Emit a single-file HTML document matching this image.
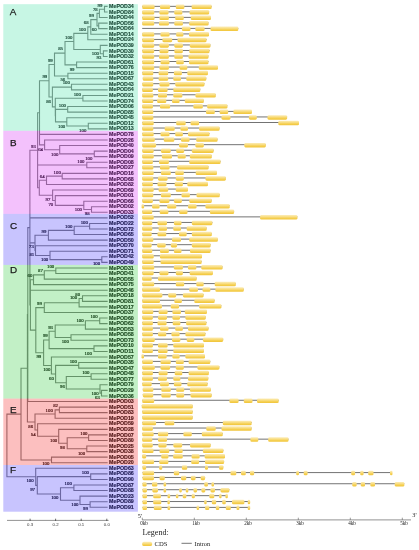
<!DOCTYPE html>
<html><head><meta charset="utf-8"><title>MePOD phylogeny and gene structure</title>
<style>html,body{margin:0;padding:0;background:#fff;}svg{display:block;}.bs{font-family:"Liberation Serif",serif;font-size:4.8px;fill:#000;stroke:#000;stroke-width:0.2px;}.gl{font-family:"Liberation Sans",sans-serif;font-weight:bold;font-size:4.75px;fill:#000;stroke:#000;stroke-width:0.15px;}.grp{font-family:"Liberation Sans",sans-serif;font-size:9.9px;fill:#1a1a1a;stroke:#1a1a1a;stroke-width:0.25px;}.ax{font-family:"Liberation Serif",serif;font-size:5.1px;fill:#222;}.sc{font-family:"Liberation Sans",sans-serif;font-size:4.3px;fill:#333;}</style></head><body>
<svg width="419" height="550" viewBox="0 0 419 550">
<defs><linearGradient id="ex" x1="0" y1="0" x2="0" y2="1"><stop offset="0" stop-color="#fcecb8"/><stop offset="0.35" stop-color="#f9df88"/><stop offset="0.7" stop-color="#f5cf50"/><stop offset="1" stop-color="#f0c43a"/></linearGradient></defs>
<rect x="0" y="0" width="419" height="550" fill="#fff"/>
<path d="M6.90 414.13L6.90 476.82M6.90 414.13L21.00 414.13M21.00 368.31L21.00 459.95M21.00 368.31L27.40 368.31M27.40 314.57L27.40 422.04M27.40 314.57L27.80 314.57M27.80 227.63L27.80 401.51M27.80 227.63L29.90 227.63M29.90 150.29L29.90 304.98M29.90 150.29L37.60 150.29M37.60 112.80L37.60 187.78M37.60 112.80L39.50 112.80M39.50 80.78L39.50 144.83M39.50 80.78L49.00 80.78M49.00 64.55L49.00 97.01M49.00 64.55L54.50 64.55M54.50 53.14L54.50 75.96M54.50 53.14L65.00 53.14M65.00 41.44L65.00 64.83M65.00 41.44L73.80 41.44M73.80 33.36L73.80 49.53M73.80 33.36L87.80 33.36M87.80 26.92L87.80 39.79M87.80 26.92L90.80 26.92M90.80 19.62L90.80 34.23M90.80 19.62L97.00 19.62M97.00 13.36L97.00 25.88M97.00 13.36L99.40 13.36M99.40 9.18L99.40 17.53M99.40 9.18L104.50 9.18M104.50 6.40L104.50 11.96M104.50 6.40L107.10 6.40M104.50 11.96L107.10 11.96M99.40 17.53L107.10 17.53M97.00 25.88L98.70 25.88M98.70 23.09L98.70 28.66M98.70 23.09L107.10 23.09M98.70 28.66L107.10 28.66M90.80 34.23L107.10 34.23M87.80 39.79L107.10 39.79M73.80 49.53L100.30 49.53M100.30 45.36L100.30 53.70M100.30 45.36L107.10 45.36M100.30 53.70L103.40 53.70M103.40 50.92L103.40 56.48M103.40 50.92L107.10 50.92M103.40 56.48L107.10 56.48M65.00 64.83L76.60 64.83M76.60 62.05L76.60 67.62M76.60 62.05L107.10 62.05M76.60 67.62L107.10 67.62M54.50 75.96L67.90 75.96M67.90 73.18L67.90 78.75M67.90 73.18L107.10 73.18M67.90 78.75L107.10 78.75M49.00 97.01L52.40 97.01M52.40 87.09L52.40 106.92M52.40 87.09L71.50 87.09M71.50 84.31L71.50 89.88M71.50 84.31L107.10 84.31M71.50 89.88L107.10 89.88M52.40 106.92L55.30 106.92M55.30 98.22L55.30 115.61M55.30 98.22L82.90 98.22M82.90 95.44L82.90 101.01M82.90 95.44L107.10 95.44M82.90 101.01L107.10 101.01M55.30 115.61L55.50 115.61M55.50 109.35L55.50 121.87M55.50 109.35L67.70 109.35M67.70 106.57L67.70 112.14M67.70 106.57L107.10 106.57M67.70 112.14L107.10 112.14M55.50 121.87L66.80 121.87M66.80 117.70L66.80 126.05M66.80 117.70L107.10 117.70M66.80 126.05L88.30 126.05M88.30 123.27L88.30 128.83M88.30 123.27L107.10 123.27M88.30 128.83L107.10 128.83M39.50 134.40L107.10 134.40M39.50 144.83L44.60 144.83M44.60 139.96L44.60 149.70M44.60 139.96L107.10 139.96M44.60 149.70L59.70 149.70M59.70 145.53L59.70 153.87M59.70 145.53L107.10 145.53M59.70 153.87L94.30 153.87M94.30 151.09L94.30 156.66M94.30 151.09L107.10 151.09M94.30 156.66L107.10 156.66M37.60 165.00L86.80 165.00M86.80 162.22L86.80 167.79M86.80 162.22L107.10 162.22M86.80 167.79L107.10 167.79M37.60 187.78L39.30 187.78M39.30 180.31L39.30 195.26M39.30 180.31L46.50 180.31M46.50 176.13L46.50 184.48M46.50 176.13L62.20 176.13M62.20 173.35L62.20 178.92M62.20 173.35L107.10 173.35M62.20 178.92L107.10 178.92M46.50 184.48L107.10 184.48M39.30 195.26L52.60 195.26M52.60 190.05L52.60 200.48M52.60 190.05L107.10 190.05M52.60 200.48L55.30 200.48M55.30 195.61L55.30 205.35M55.30 195.61L107.10 195.61M55.30 205.35L83.80 205.35M83.80 201.18L83.80 209.52M83.80 201.18L107.10 201.18M83.80 209.52L91.50 209.52M91.50 206.74L91.50 212.31M91.50 206.74L107.10 206.74M91.50 212.31L107.10 212.31M29.90 217.87L107.10 217.87M29.90 242.91L35.00 242.91M35.00 235.26L35.00 250.56M35.00 235.26L48.40 235.26M48.40 230.39L48.40 240.13M48.40 230.39L74.20 230.39M74.20 226.22L74.20 234.57M74.20 226.22L89.60 226.22M89.60 223.44L89.60 229.00M89.60 223.44L107.10 223.44M89.60 229.00L107.10 229.00M74.20 234.57L107.10 234.57M48.40 240.13L107.10 240.13M35.00 250.56L35.50 250.56M35.50 245.70L35.50 255.43M35.50 245.70L107.10 245.70M35.50 255.43L50.00 255.43M50.00 251.26L50.00 259.61M50.00 251.26L107.10 251.26M50.00 259.61L101.80 259.61M101.80 256.82L101.80 262.39M101.80 256.82L107.10 256.82M101.80 262.39L107.10 262.39M29.90 304.98L30.40 304.98M30.40 279.78L30.40 330.17M30.40 279.78L33.50 279.78M33.50 274.91L33.50 284.65M33.50 274.91L44.30 274.91M44.30 270.74L44.30 279.08M44.30 270.74L55.80 270.74M55.80 267.95L55.80 273.52M55.80 267.95L107.10 267.95M55.80 273.52L107.10 273.52M44.30 279.08L107.10 279.08M33.50 284.65L107.10 284.65M30.40 290.21L107.10 290.21M30.40 330.17L35.80 330.17M35.80 307.61L35.80 352.73M35.80 307.61L44.30 307.61M44.30 302.74L44.30 312.48M44.30 302.74L79.10 302.74M79.10 298.56L79.10 306.91M79.10 298.56L82.50 298.56M82.50 295.78L82.50 301.34M82.50 295.78L107.10 295.78M82.50 301.34L107.10 301.34M79.10 306.91L107.10 306.91M44.30 312.48L107.10 312.48M35.80 352.73L43.60 352.73M43.60 339.95L43.60 365.52M43.60 339.95L49.10 339.95M49.10 331.26L49.10 348.65M49.10 331.26L55.20 331.26M55.20 325.00L55.20 337.52M55.20 325.00L85.40 325.00M85.40 320.82L85.40 329.17M85.40 320.82L99.70 320.82M99.70 318.04L99.70 323.61M99.70 318.04L107.10 318.04M99.70 323.61L107.10 323.61M85.40 329.17L107.10 329.17M55.20 337.52L71.00 337.52M71.00 334.74L71.00 340.30M71.00 334.74L107.10 334.74M71.00 340.30L107.10 340.30M49.10 348.65L94.00 348.65M94.00 345.87L94.00 351.43M94.00 345.87L107.10 345.87M94.00 351.43L107.10 351.43M43.60 365.52L51.40 365.52M51.40 357.00L51.40 374.04M51.40 357.00L107.10 357.00M51.40 374.04L55.60 374.04M55.60 365.34L55.60 382.73M55.60 365.34L78.70 365.34M78.70 362.56L78.70 368.12M78.70 362.56L107.10 362.56M78.70 368.12L107.10 368.12M55.60 382.73L66.30 382.73M66.30 376.47L66.30 388.99M66.30 376.47L91.10 376.47M91.10 373.69L91.10 379.25M91.10 373.69L107.10 373.69M91.10 379.25L107.10 379.25M66.30 388.99L100.00 388.99M100.00 384.82L100.00 393.17M100.00 384.82L107.10 384.82M100.00 393.17L101.50 393.17M101.50 390.38L101.50 395.95M101.50 390.38L107.10 390.38M101.50 395.95L107.10 395.95M27.80 401.51L107.10 401.51M27.40 422.04L35.00 422.04M35.00 414.04L35.00 430.04M35.00 414.04L55.10 414.04M55.10 409.86L55.10 418.21M55.10 409.86L59.40 409.86M59.40 407.08L59.40 412.64M59.40 407.08L107.10 407.08M59.40 412.64L107.10 412.64M55.10 418.21L107.10 418.21M35.00 430.04L37.60 430.04M37.60 423.78L37.60 436.30M37.60 423.78L107.10 423.78M37.60 436.30L58.70 436.30M58.70 429.34L58.70 443.25M58.70 429.34L107.10 429.34M58.70 443.25L67.20 443.25M67.20 437.69L67.20 448.82M67.20 437.69L88.60 437.69M88.60 434.91L88.60 440.47M88.60 434.91L107.10 434.91M88.60 440.47L107.10 440.47M67.20 448.82L86.80 448.82M86.80 446.04L86.80 451.60M86.80 446.04L107.10 446.04M86.80 451.60L107.10 451.60M21.00 459.95L51.50 459.95M51.50 457.17L51.50 462.73M51.50 457.17L107.10 457.17M51.50 462.73L107.10 462.73M6.90 476.82L35.70 476.82M35.70 468.30L35.70 485.34M35.70 468.30L107.10 468.30M35.70 485.34L37.30 485.34M37.30 476.64L37.30 494.03M37.30 476.64L90.70 476.64M90.70 473.86L90.70 479.43M90.70 473.86L107.10 473.86M90.70 479.43L107.10 479.43M37.30 494.03L60.50 494.03M60.50 487.77L60.50 500.29M60.50 487.77L73.90 487.77M73.90 484.99L73.90 490.56M73.90 484.99L107.10 484.99M73.90 490.56L107.10 490.56M60.50 500.29L80.00 500.29M80.00 496.12L80.00 504.47M80.00 496.12L107.10 496.12M80.00 504.47L90.10 504.47M90.10 501.69L90.10 507.25M90.10 501.69L107.10 501.69M90.10 507.25L107.10 507.25" stroke="#000" stroke-width="1.1" fill="none" stroke-linecap="square" stroke-opacity="0.55"/>
<text class="bs" x="100.0" y="6.5" text-anchor="middle">99</text>
<text class="bs" x="95.3" y="10.9" text-anchor="middle">78</text>
<text class="bs" x="94.2" y="31.3" text-anchor="middle">60</text>
<text class="bs" x="91.5" y="17.1" text-anchor="middle">99</text>
<text class="bs" x="86.2" y="24.4" text-anchor="middle">68</text>
<text class="bs" x="82.3" y="30.7" text-anchor="middle">100</text>
<text class="bs" x="99.0" y="59.0" text-anchor="middle">93</text>
<text class="bs" x="95.4" y="54.6" text-anchor="middle">100</text>
<text class="bs" x="68.7" y="39.1" text-anchor="middle">100</text>
<text class="bs" x="60.6" y="50.3" text-anchor="middle">85</text>
<text class="bs" x="72.1" y="70.7" text-anchor="middle">99</text>
<text class="bs" x="50.3" y="62.0" text-anchor="middle">99</text>
<text class="bs" x="66.3" y="84.1" text-anchor="middle">100</text>
<text class="bs" x="77.3" y="95.6" text-anchor="middle">100</text>
<text class="bs" x="62.4" y="106.7" text-anchor="middle">100</text>
<text class="bs" x="82.7" y="132.3" text-anchor="middle">100</text>
<text class="bs" x="61.6" y="128.0" text-anchor="middle">100</text>
<text class="bs" x="48.6" y="102.5" text-anchor="middle">86</text>
<text class="bs" x="44.8" y="78.0" text-anchor="middle">99</text>
<text class="bs" x="88.8" y="159.7" text-anchor="middle">100</text>
<text class="bs" x="54.7" y="155.5" text-anchor="middle">100</text>
<text class="bs" x="40.6" y="150.9" text-anchor="middle">64</text>
<text class="bs" x="80.9" y="162.5" text-anchor="middle">100</text>
<text class="bs" x="57.2" y="173.7" text-anchor="middle">100</text>
<text class="bs" x="42.2" y="178.0" text-anchor="middle">64</text>
<text class="bs" x="87.2" y="214.9" text-anchor="middle">98</text>
<text class="bs" x="78.4" y="210.6" text-anchor="middle">100</text>
<text class="bs" x="50.8" y="206.2" text-anchor="middle">70</text>
<text class="bs" x="47.9" y="200.5" text-anchor="middle">97</text>
<text class="bs" x="33.5" y="147.5" text-anchor="middle">93</text>
<text class="bs" x="84.3" y="223.6" text-anchor="middle">100</text>
<text class="bs" x="68.7" y="227.8" text-anchor="middle">100</text>
<text class="bs" x="44.0" y="232.7" text-anchor="middle">99</text>
<text class="bs" x="96.5" y="264.9" text-anchor="middle">100</text>
<text class="bs" x="44.6" y="261.1" text-anchor="middle">100</text>
<text class="bs" x="31.8" y="255.8" text-anchor="middle">81</text>
<text class="bs" x="31.4" y="247.7" text-anchor="middle">73</text>
<text class="bs" x="50.6" y="267.9" text-anchor="middle">100</text>
<text class="bs" x="40.5" y="271.7" text-anchor="middle">87</text>
<text class="bs" x="29.9" y="276.7" text-anchor="middle">60</text>
<text class="bs" x="77.7" y="295.9" text-anchor="middle">80</text>
<text class="bs" x="73.5" y="299.4" text-anchor="middle">100</text>
<text class="bs" x="39.5" y="304.7" text-anchor="middle">99</text>
<text class="bs" x="94.0" y="318.3" text-anchor="middle">100</text>
<text class="bs" x="80.0" y="322.3" text-anchor="middle">100</text>
<text class="bs" x="65.3" y="343.2" text-anchor="middle">100</text>
<text class="bs" x="50.6" y="328.7" text-anchor="middle">93</text>
<text class="bs" x="88.2" y="354.6" text-anchor="middle">100</text>
<text class="bs" x="45.3" y="336.9" text-anchor="middle">99</text>
<text class="bs" x="73.3" y="362.6" text-anchor="middle">100</text>
<text class="bs" x="85.8" y="373.7" text-anchor="middle">100</text>
<text class="bs" x="97.4" y="399.0" text-anchor="middle">63</text>
<text class="bs" x="95.0" y="394.8" text-anchor="middle">100</text>
<text class="bs" x="62.4" y="388.3" text-anchor="middle">96</text>
<text class="bs" x="51.4" y="379.6" text-anchor="middle">60</text>
<text class="bs" x="46.8" y="371.3" text-anchor="middle">100</text>
<text class="bs" x="38.8" y="358.2" text-anchor="middle">99</text>
<text class="bs" x="55.6" y="406.8" text-anchor="middle">82</text>
<text class="bs" x="49.2" y="411.6" text-anchor="middle">100</text>
<text class="bs" x="83.9" y="434.7" text-anchor="middle">100</text>
<text class="bs" x="81.5" y="454.5" text-anchor="middle">100</text>
<text class="bs" x="62.4" y="448.6" text-anchor="middle">98</text>
<text class="bs" x="53.6" y="442.2" text-anchor="middle">100</text>
<text class="bs" x="33.2" y="436.1" text-anchor="middle">54</text>
<text class="bs" x="30.7" y="427.7" text-anchor="middle">86</text>
<text class="bs" x="45.8" y="465.1" text-anchor="middle">100</text>
<text class="bs" x="85.4" y="474.2" text-anchor="middle">100</text>
<text class="bs" x="68.2" y="485.1" text-anchor="middle">100</text>
<text class="bs" x="85.4" y="509.5" text-anchor="middle">99</text>
<text class="bs" x="74.9" y="506.1" text-anchor="middle">100</text>
<text class="bs" x="54.8" y="499.4" text-anchor="middle">100</text>
<text class="bs" x="32.6" y="490.9" text-anchor="middle">97</text>
<text class="bs" x="30.0" y="482.3" text-anchor="middle">100</text>
<text class="bs" x="62.8" y="81.1" text-anchor="middle">56</text>
<text class="gl" x="109.1" y="8.00" textLength="24.7" lengthAdjust="spacingAndGlyphs">MePOD34</text>
<text class="gl" x="109.1" y="13.56" textLength="24.7" lengthAdjust="spacingAndGlyphs">MePOD84</text>
<text class="gl" x="109.1" y="19.13" textLength="24.7" lengthAdjust="spacingAndGlyphs">MePOD44</text>
<text class="gl" x="109.1" y="24.70" textLength="24.7" lengthAdjust="spacingAndGlyphs">MePOD56</text>
<text class="gl" x="109.1" y="30.26" textLength="24.7" lengthAdjust="spacingAndGlyphs">MePOD64</text>
<text class="gl" x="109.1" y="35.83" textLength="24.7" lengthAdjust="spacingAndGlyphs">MePOD14</text>
<text class="gl" x="109.1" y="41.39" textLength="24.7" lengthAdjust="spacingAndGlyphs">MePOD24</text>
<text class="gl" x="109.1" y="46.96" textLength="24.7" lengthAdjust="spacingAndGlyphs">MePOD39</text>
<text class="gl" x="109.1" y="52.52" textLength="24.7" lengthAdjust="spacingAndGlyphs">MePOD30</text>
<text class="gl" x="109.1" y="58.09" textLength="24.7" lengthAdjust="spacingAndGlyphs">MePOD32</text>
<text class="gl" x="109.1" y="63.65" textLength="24.7" lengthAdjust="spacingAndGlyphs">MePOD61</text>
<text class="gl" x="109.1" y="69.22" textLength="24.7" lengthAdjust="spacingAndGlyphs">MePOD76</text>
<text class="gl" x="109.1" y="74.78" textLength="24.7" lengthAdjust="spacingAndGlyphs">MePOD15</text>
<text class="gl" x="109.1" y="80.34" textLength="24.7" lengthAdjust="spacingAndGlyphs">MePOD67</text>
<text class="gl" x="109.1" y="85.91" textLength="24.7" lengthAdjust="spacingAndGlyphs">MePOD43</text>
<text class="gl" x="109.1" y="91.48" textLength="24.7" lengthAdjust="spacingAndGlyphs">MePOD54</text>
<text class="gl" x="109.1" y="97.04" textLength="24.7" lengthAdjust="spacingAndGlyphs">MePOD21</text>
<text class="gl" x="109.1" y="102.61" textLength="24.7" lengthAdjust="spacingAndGlyphs">MePOD74</text>
<text class="gl" x="109.1" y="108.17" textLength="24.7" lengthAdjust="spacingAndGlyphs">MePOD06</text>
<text class="gl" x="109.1" y="113.74" textLength="24.7" lengthAdjust="spacingAndGlyphs">MePOD85</text>
<text class="gl" x="109.1" y="119.30" textLength="24.7" lengthAdjust="spacingAndGlyphs">MePOD45</text>
<text class="gl" x="109.1" y="124.87" textLength="24.7" lengthAdjust="spacingAndGlyphs">MePOD12</text>
<text class="gl" x="109.1" y="130.43" textLength="24.7" lengthAdjust="spacingAndGlyphs">MePOD13</text>
<text class="gl" x="109.1" y="136.00" textLength="24.7" lengthAdjust="spacingAndGlyphs">MePOD78</text>
<text class="gl" x="109.1" y="141.56" textLength="24.7" lengthAdjust="spacingAndGlyphs">MePOD26</text>
<text class="gl" x="109.1" y="147.12" textLength="24.7" lengthAdjust="spacingAndGlyphs">MePOD40</text>
<text class="gl" x="109.1" y="152.69" textLength="24.7" lengthAdjust="spacingAndGlyphs">MePOD04</text>
<text class="gl" x="109.1" y="158.26" textLength="24.7" lengthAdjust="spacingAndGlyphs">MePOD09</text>
<text class="gl" x="109.1" y="163.82" textLength="24.7" lengthAdjust="spacingAndGlyphs">MePOD08</text>
<text class="gl" x="109.1" y="169.39" textLength="24.7" lengthAdjust="spacingAndGlyphs">MePOD27</text>
<text class="gl" x="109.1" y="174.95" textLength="24.7" lengthAdjust="spacingAndGlyphs">MePOD16</text>
<text class="gl" x="109.1" y="180.52" textLength="24.7" lengthAdjust="spacingAndGlyphs">MePOD68</text>
<text class="gl" x="109.1" y="186.08" textLength="24.7" lengthAdjust="spacingAndGlyphs">MePOD82</text>
<text class="gl" x="109.1" y="191.65" textLength="24.7" lengthAdjust="spacingAndGlyphs">MePOD69</text>
<text class="gl" x="109.1" y="197.21" textLength="24.7" lengthAdjust="spacingAndGlyphs">MePOD01</text>
<text class="gl" x="109.1" y="202.78" textLength="24.7" lengthAdjust="spacingAndGlyphs">MePOD66</text>
<text class="gl" x="109.1" y="208.34" textLength="24.7" lengthAdjust="spacingAndGlyphs">MePOD02</text>
<text class="gl" x="109.1" y="213.91" textLength="24.7" lengthAdjust="spacingAndGlyphs">MePOD33</text>
<text class="gl" x="109.1" y="219.47" textLength="24.7" lengthAdjust="spacingAndGlyphs">MePOD52</text>
<text class="gl" x="109.1" y="225.04" textLength="24.7" lengthAdjust="spacingAndGlyphs">MePOD22</text>
<text class="gl" x="109.1" y="230.60" textLength="24.7" lengthAdjust="spacingAndGlyphs">MePOD72</text>
<text class="gl" x="109.1" y="236.17" textLength="24.7" lengthAdjust="spacingAndGlyphs">MePOD65</text>
<text class="gl" x="109.1" y="241.73" textLength="24.7" lengthAdjust="spacingAndGlyphs">MePOD50</text>
<text class="gl" x="109.1" y="247.30" textLength="24.7" lengthAdjust="spacingAndGlyphs">MePOD70</text>
<text class="gl" x="109.1" y="252.86" textLength="24.7" lengthAdjust="spacingAndGlyphs">MePOD71</text>
<text class="gl" x="109.1" y="258.43" textLength="24.7" lengthAdjust="spacingAndGlyphs">MePOD42</text>
<text class="gl" x="109.1" y="263.99" textLength="24.7" lengthAdjust="spacingAndGlyphs">MePOD49</text>
<text class="gl" x="109.1" y="269.56" textLength="24.7" lengthAdjust="spacingAndGlyphs">MePOD31</text>
<text class="gl" x="109.1" y="275.12" textLength="24.7" lengthAdjust="spacingAndGlyphs">MePOD41</text>
<text class="gl" x="109.1" y="280.69" textLength="24.7" lengthAdjust="spacingAndGlyphs">MePOD55</text>
<text class="gl" x="109.1" y="286.25" textLength="24.7" lengthAdjust="spacingAndGlyphs">MePOD75</text>
<text class="gl" x="109.1" y="291.81" textLength="24.7" lengthAdjust="spacingAndGlyphs">MePOD46</text>
<text class="gl" x="109.1" y="297.38" textLength="24.7" lengthAdjust="spacingAndGlyphs">MePOD18</text>
<text class="gl" x="109.1" y="302.94" textLength="24.7" lengthAdjust="spacingAndGlyphs">MePOD81</text>
<text class="gl" x="109.1" y="308.51" textLength="24.7" lengthAdjust="spacingAndGlyphs">MePOD17</text>
<text class="gl" x="109.1" y="314.08" textLength="24.7" lengthAdjust="spacingAndGlyphs">MePOD37</text>
<text class="gl" x="109.1" y="319.64" textLength="24.7" lengthAdjust="spacingAndGlyphs">MePOD60</text>
<text class="gl" x="109.1" y="325.21" textLength="24.7" lengthAdjust="spacingAndGlyphs">MePOD62</text>
<text class="gl" x="109.1" y="330.77" textLength="24.7" lengthAdjust="spacingAndGlyphs">MePOD53</text>
<text class="gl" x="109.1" y="336.34" textLength="24.7" lengthAdjust="spacingAndGlyphs">MePOD58</text>
<text class="gl" x="109.1" y="341.90" textLength="24.7" lengthAdjust="spacingAndGlyphs">MePOD73</text>
<text class="gl" x="109.1" y="347.47" textLength="24.7" lengthAdjust="spacingAndGlyphs">MePOD10</text>
<text class="gl" x="109.1" y="353.03" textLength="24.7" lengthAdjust="spacingAndGlyphs">MePOD11</text>
<text class="gl" x="109.1" y="358.60" textLength="24.7" lengthAdjust="spacingAndGlyphs">MePOD57</text>
<text class="gl" x="109.1" y="364.16" textLength="24.7" lengthAdjust="spacingAndGlyphs">MePOD35</text>
<text class="gl" x="109.1" y="369.73" textLength="24.7" lengthAdjust="spacingAndGlyphs">MePOD47</text>
<text class="gl" x="109.1" y="375.29" textLength="24.7" lengthAdjust="spacingAndGlyphs">MePOD48</text>
<text class="gl" x="109.1" y="380.86" textLength="24.7" lengthAdjust="spacingAndGlyphs">MePOD77</text>
<text class="gl" x="109.1" y="386.42" textLength="24.7" lengthAdjust="spacingAndGlyphs">MePOD79</text>
<text class="gl" x="109.1" y="391.99" textLength="24.7" lengthAdjust="spacingAndGlyphs">MePOD29</text>
<text class="gl" x="109.1" y="397.55" textLength="24.7" lengthAdjust="spacingAndGlyphs">MePOD36</text>
<text class="gl" x="109.1" y="403.12" textLength="24.7" lengthAdjust="spacingAndGlyphs">MePOD03</text>
<text class="gl" x="109.1" y="408.68" textLength="24.7" lengthAdjust="spacingAndGlyphs">MePOD51</text>
<text class="gl" x="109.1" y="414.25" textLength="24.7" lengthAdjust="spacingAndGlyphs">MePOD83</text>
<text class="gl" x="109.1" y="419.81" textLength="24.7" lengthAdjust="spacingAndGlyphs">MePOD19</text>
<text class="gl" x="109.1" y="425.38" textLength="24.7" lengthAdjust="spacingAndGlyphs">MePOD59</text>
<text class="gl" x="109.1" y="430.94" textLength="24.7" lengthAdjust="spacingAndGlyphs">MePOD28</text>
<text class="gl" x="109.1" y="436.51" textLength="24.7" lengthAdjust="spacingAndGlyphs">MePOD07</text>
<text class="gl" x="109.1" y="442.07" textLength="24.7" lengthAdjust="spacingAndGlyphs">MePOD80</text>
<text class="gl" x="109.1" y="447.64" textLength="24.7" lengthAdjust="spacingAndGlyphs">MePOD25</text>
<text class="gl" x="109.1" y="453.20" textLength="24.7" lengthAdjust="spacingAndGlyphs">MePOD38</text>
<text class="gl" x="109.1" y="458.77" textLength="24.7" lengthAdjust="spacingAndGlyphs">MePOD05</text>
<text class="gl" x="109.1" y="464.33" textLength="24.7" lengthAdjust="spacingAndGlyphs">MePOD20</text>
<text class="gl" x="109.1" y="469.90" textLength="24.7" lengthAdjust="spacingAndGlyphs">MePOD63</text>
<text class="gl" x="109.1" y="475.46" textLength="24.7" lengthAdjust="spacingAndGlyphs">MePOD86</text>
<text class="gl" x="109.1" y="481.03" textLength="24.7" lengthAdjust="spacingAndGlyphs">MePOD90</text>
<text class="gl" x="109.1" y="486.59" textLength="24.7" lengthAdjust="spacingAndGlyphs">MePOD87</text>
<text class="gl" x="109.1" y="492.16" textLength="24.7" lengthAdjust="spacingAndGlyphs">MePOD88</text>
<text class="gl" x="109.1" y="497.72" textLength="24.7" lengthAdjust="spacingAndGlyphs">MePOD23</text>
<text class="gl" x="109.1" y="503.29" textLength="24.7" lengthAdjust="spacingAndGlyphs">MePOD89</text>
<text class="gl" x="109.1" y="508.85" textLength="24.7" lengthAdjust="spacingAndGlyphs">MePOD91</text>
<rect x="3.3" y="4.2" width="134.6" height="126.6" fill="#5ae5b0" fill-opacity="0.34"/>
<rect x="3.3" y="130.8" width="134.6" height="83.1" fill="#dc49f6" fill-opacity="0.34"/>
<rect x="3.3" y="213.9" width="134.6" height="51.0" fill="#5d51fc" fill-opacity="0.34"/>
<rect x="3.3" y="264.9" width="134.6" height="133.7" fill="#4cd357" fill-opacity="0.34"/>
<rect x="3.3" y="398.6" width="134.6" height="66.4" fill="#f64343" fill-opacity="0.34"/>
<rect x="3.3" y="465.0" width="134.6" height="46.7" fill="#5d51fc" fill-opacity="0.34"/>
<text class="grp" x="9.8" y="15.4">A</text>
<text class="grp" x="10.0" y="145.6">B</text>
<text class="grp" x="9.9" y="229.1">C</text>
<text class="grp" x="10.0" y="273.4">D</text>
<text class="grp" x="9.9" y="412.9">E</text>
<text class="grp" x="10.0" y="472.7">F</text>
<line x1="142.2" y1="6.35" x2="211.7" y2="6.35" stroke="#5a5a5a" stroke-width="0.85"/>
<rect x="142.2" y="4.55" width="12.4" height="4.5" rx="1.30" fill="url(#ex)"/>
<rect x="160.0" y="4.55" width="10.1" height="4.5" rx="1.30" fill="url(#ex)"/>
<rect x="175.8" y="4.55" width="8.6" height="4.5" rx="1.30" fill="url(#ex)"/>
<rect x="191.6" y="4.55" width="20.1" height="4.5" rx="1.30" fill="url(#ex)"/>
<line x1="142.2" y1="11.87" x2="209.1" y2="11.87" stroke="#5a5a5a" stroke-width="0.85"/>
<rect x="142.2" y="10.06" width="12.0" height="4.5" rx="1.30" fill="url(#ex)"/>
<rect x="159.4" y="10.06" width="9.1" height="4.5" rx="1.30" fill="url(#ex)"/>
<rect x="174.3" y="10.06" width="8.0" height="4.5" rx="1.30" fill="url(#ex)"/>
<rect x="189.6" y="10.06" width="19.5" height="4.5" rx="1.30" fill="url(#ex)"/>
<line x1="142.2" y1="17.38" x2="211.0" y2="17.38" stroke="#5a5a5a" stroke-width="0.85"/>
<rect x="142.2" y="15.58" width="12.4" height="4.5" rx="1.30" fill="url(#ex)"/>
<rect x="159.4" y="15.58" width="9.5" height="4.5" rx="1.30" fill="url(#ex)"/>
<rect x="175.2" y="15.58" width="8.6" height="4.5" rx="1.30" fill="url(#ex)"/>
<rect x="190.8" y="15.58" width="20.2" height="4.5" rx="1.30" fill="url(#ex)"/>
<line x1="142.2" y1="22.89" x2="208.6" y2="22.89" stroke="#5a5a5a" stroke-width="0.85"/>
<rect x="142.2" y="21.09" width="12.0" height="4.5" rx="1.30" fill="url(#ex)"/>
<rect x="159.0" y="21.09" width="9.9" height="4.5" rx="1.30" fill="url(#ex)"/>
<rect x="174.3" y="21.09" width="8.6" height="4.5" rx="1.30" fill="url(#ex)"/>
<rect x="189.2" y="21.09" width="19.4" height="4.5" rx="1.30" fill="url(#ex)"/>
<line x1="142.2" y1="28.41" x2="238.3" y2="28.41" stroke="#5a5a5a" stroke-width="0.85"/>
<rect x="181.9" y="26.61" width="8.6" height="4.5" rx="1.30" fill="url(#ex)"/>
<rect x="195.3" y="26.61" width="9.3" height="4.5" rx="1.30" fill="url(#ex)"/>
<rect x="210.5" y="26.61" width="27.8" height="4.5" rx="1.30" fill="url(#ex)"/>
<line x1="142.2" y1="33.92" x2="209.0" y2="33.92" stroke="#5a5a5a" stroke-width="0.85"/>
<rect x="142.2" y="32.12" width="12.0" height="4.5" rx="1.30" fill="url(#ex)"/>
<rect x="160.5" y="32.12" width="9.0" height="4.5" rx="1.30" fill="url(#ex)"/>
<rect x="176.2" y="32.12" width="7.2" height="4.5" rx="1.30" fill="url(#ex)"/>
<rect x="189.0" y="32.12" width="20.0" height="4.5" rx="1.30" fill="url(#ex)"/>
<line x1="142.2" y1="39.44" x2="206.6" y2="39.44" stroke="#5a5a5a" stroke-width="0.85"/>
<rect x="142.2" y="37.64" width="12.0" height="4.5" rx="1.30" fill="url(#ex)"/>
<rect x="162.4" y="37.64" width="9.8" height="4.5" rx="1.30" fill="url(#ex)"/>
<rect x="177.5" y="37.64" width="29.1" height="4.5" rx="1.30" fill="url(#ex)"/>
<line x1="142.2" y1="44.95" x2="210.5" y2="44.95" stroke="#5a5a5a" stroke-width="0.85"/>
<rect x="142.2" y="43.16" width="12.0" height="4.5" rx="1.30" fill="url(#ex)"/>
<rect x="159.4" y="43.16" width="9.5" height="4.5" rx="1.30" fill="url(#ex)"/>
<rect x="174.3" y="43.16" width="8.6" height="4.5" rx="1.30" fill="url(#ex)"/>
<rect x="189.8" y="43.16" width="20.7" height="4.5" rx="1.30" fill="url(#ex)"/>
<line x1="142.2" y1="50.47" x2="209.6" y2="50.47" stroke="#5a5a5a" stroke-width="0.85"/>
<rect x="142.2" y="48.67" width="12.0" height="4.5" rx="1.30" fill="url(#ex)"/>
<rect x="159.4" y="48.67" width="9.1" height="4.5" rx="1.30" fill="url(#ex)"/>
<rect x="174.3" y="48.67" width="8.6" height="4.5" rx="1.30" fill="url(#ex)"/>
<rect x="189.2" y="48.67" width="20.4" height="4.5" rx="1.30" fill="url(#ex)"/>
<line x1="142.2" y1="55.98" x2="208.5" y2="55.98" stroke="#5a5a5a" stroke-width="0.85"/>
<rect x="142.2" y="54.19" width="12.0" height="4.5" rx="1.30" fill="url(#ex)"/>
<rect x="159.0" y="54.19" width="9.9" height="4.5" rx="1.30" fill="url(#ex)"/>
<rect x="174.3" y="54.19" width="8.6" height="4.5" rx="1.30" fill="url(#ex)"/>
<rect x="188.5" y="54.19" width="20.0" height="4.5" rx="1.30" fill="url(#ex)"/>
<line x1="142.2" y1="61.50" x2="208.5" y2="61.50" stroke="#5a5a5a" stroke-width="0.85"/>
<rect x="142.2" y="59.70" width="12.0" height="4.5" rx="1.30" fill="url(#ex)"/>
<rect x="160.5" y="59.70" width="9.0" height="4.5" rx="1.30" fill="url(#ex)"/>
<rect x="176.2" y="59.70" width="7.6" height="4.5" rx="1.30" fill="url(#ex)"/>
<rect x="189.0" y="59.70" width="19.5" height="4.5" rx="1.30" fill="url(#ex)"/>
<line x1="142.2" y1="67.05" x2="218.0" y2="67.05" stroke="#5a5a5a" stroke-width="0.85"/>
<rect x="142.2" y="65.25" width="12.0" height="4.5" rx="1.30" fill="url(#ex)"/>
<rect x="159.4" y="65.25" width="9.5" height="4.5" rx="1.30" fill="url(#ex)"/>
<rect x="179.6" y="65.25" width="7.7" height="4.5" rx="1.30" fill="url(#ex)"/>
<rect x="198.8" y="65.25" width="19.2" height="4.5" rx="1.30" fill="url(#ex)"/>
<line x1="142.2" y1="72.59" x2="208.0" y2="72.59" stroke="#5a5a5a" stroke-width="0.85"/>
<rect x="142.2" y="70.79" width="11.1" height="4.5" rx="1.30" fill="url(#ex)"/>
<rect x="158.6" y="70.79" width="9.6" height="4.5" rx="1.30" fill="url(#ex)"/>
<rect x="173.9" y="70.79" width="8.0" height="4.5" rx="1.30" fill="url(#ex)"/>
<rect x="187.3" y="70.79" width="20.7" height="4.5" rx="1.30" fill="url(#ex)"/>
<line x1="142.8" y1="78.14" x2="206.3" y2="78.14" stroke="#5a5a5a" stroke-width="0.85"/>
<rect x="142.8" y="76.34" width="10.5" height="4.5" rx="1.30" fill="url(#ex)"/>
<rect x="158.6" y="76.34" width="9.6" height="4.5" rx="1.30" fill="url(#ex)"/>
<rect x="173.3" y="76.34" width="7.7" height="4.5" rx="1.30" fill="url(#ex)"/>
<rect x="186.3" y="76.34" width="20.0" height="4.5" rx="1.30" fill="url(#ex)"/>
<line x1="142.2" y1="83.68" x2="204.5" y2="83.68" stroke="#5a5a5a" stroke-width="0.85"/>
<rect x="142.2" y="81.88" width="11.1" height="4.5" rx="1.30" fill="url(#ex)"/>
<rect x="159.4" y="81.88" width="10.1" height="4.5" rx="1.30" fill="url(#ex)"/>
<rect x="175.2" y="81.88" width="29.3" height="4.5" rx="1.30" fill="url(#ex)"/>
<line x1="142.2" y1="89.23" x2="200.3" y2="89.23" stroke="#5a5a5a" stroke-width="0.85"/>
<rect x="142.2" y="87.43" width="10.7" height="4.5" rx="1.30" fill="url(#ex)"/>
<rect x="158.0" y="87.43" width="9.6" height="4.5" rx="1.30" fill="url(#ex)"/>
<rect x="173.3" y="87.43" width="27.0" height="4.5" rx="1.30" fill="url(#ex)"/>
<line x1="142.2" y1="94.77" x2="215.8" y2="94.77" stroke="#5a5a5a" stroke-width="0.85"/>
<rect x="142.2" y="92.97" width="11.1" height="4.5" rx="1.30" fill="url(#ex)"/>
<rect x="158.0" y="92.97" width="9.0" height="4.5" rx="1.30" fill="url(#ex)"/>
<rect x="173.3" y="92.97" width="9.0" height="4.5" rx="1.30" fill="url(#ex)"/>
<rect x="195.5" y="92.97" width="20.3" height="4.5" rx="1.30" fill="url(#ex)"/>
<line x1="142.2" y1="100.32" x2="203.9" y2="100.32" stroke="#5a5a5a" stroke-width="0.85"/>
<rect x="142.2" y="98.52" width="11.1" height="4.5" rx="1.30" fill="url(#ex)"/>
<rect x="157.1" y="98.52" width="9.2" height="4.5" rx="1.30" fill="url(#ex)"/>
<rect x="172.0" y="98.52" width="7.6" height="4.5" rx="1.30" fill="url(#ex)"/>
<rect x="184.8" y="98.52" width="19.1" height="4.5" rx="1.30" fill="url(#ex)"/>
<line x1="142.2" y1="105.86" x2="227.4" y2="105.86" stroke="#5a5a5a" stroke-width="0.85"/>
<rect x="142.2" y="104.06" width="10.7" height="4.5" rx="1.30" fill="url(#ex)"/>
<rect x="160.0" y="104.06" width="10.1" height="4.5" rx="1.30" fill="url(#ex)"/>
<rect x="193.4" y="104.06" width="9.4" height="4.5" rx="1.30" fill="url(#ex)"/>
<rect x="207.2" y="104.06" width="20.2" height="4.5" rx="1.30" fill="url(#ex)"/>
<line x1="142.2" y1="111.41" x2="252.0" y2="111.41" stroke="#5a5a5a" stroke-width="0.85"/>
<rect x="142.2" y="109.61" width="11.1" height="4.5" rx="1.30" fill="url(#ex)"/>
<rect x="206.0" y="109.61" width="8.8" height="4.5" rx="1.30" fill="url(#ex)"/>
<rect x="219.6" y="109.61" width="8.6" height="4.5" rx="1.30" fill="url(#ex)"/>
<rect x="233.4" y="109.61" width="18.6" height="4.5" rx="1.30" fill="url(#ex)"/>
<line x1="142.2" y1="116.95" x2="287.1" y2="116.95" stroke="#5a5a5a" stroke-width="0.85"/>
<rect x="142.2" y="115.15" width="11.1" height="4.5" rx="1.30" fill="url(#ex)"/>
<rect x="221.5" y="115.15" width="9.0" height="4.5" rx="1.30" fill="url(#ex)"/>
<rect x="248.9" y="115.15" width="7.9" height="4.5" rx="1.30" fill="url(#ex)"/>
<rect x="267.5" y="115.15" width="19.6" height="4.5" rx="1.30" fill="url(#ex)"/>
<line x1="142.2" y1="122.50" x2="299.0" y2="122.50" stroke="#5a5a5a" stroke-width="0.85"/>
<rect x="142.2" y="120.70" width="11.5" height="4.5" rx="1.30" fill="url(#ex)"/>
<rect x="176.2" y="120.70" width="9.5" height="4.5" rx="1.30" fill="url(#ex)"/>
<rect x="190.5" y="120.70" width="8.6" height="4.5" rx="1.30" fill="url(#ex)"/>
<rect x="278.3" y="120.70" width="20.7" height="4.5" rx="1.30" fill="url(#ex)"/>
<line x1="142.2" y1="128.04" x2="219.6" y2="128.04" stroke="#5a5a5a" stroke-width="0.85"/>
<rect x="142.2" y="126.24" width="11.1" height="4.5" rx="1.30" fill="url(#ex)"/>
<rect x="164.7" y="126.24" width="10.0" height="4.5" rx="1.30" fill="url(#ex)"/>
<rect x="180.4" y="126.24" width="7.6" height="4.5" rx="1.30" fill="url(#ex)"/>
<rect x="199.1" y="126.24" width="20.5" height="4.5" rx="1.30" fill="url(#ex)"/>
<line x1="142.2" y1="133.59" x2="209.5" y2="133.59" stroke="#5a5a5a" stroke-width="0.85"/>
<rect x="142.2" y="131.78" width="11.5" height="4.5" rx="1.30" fill="url(#ex)"/>
<rect x="160.5" y="131.78" width="9.0" height="4.5" rx="1.30" fill="url(#ex)"/>
<rect x="175.2" y="131.78" width="7.7" height="4.5" rx="1.30" fill="url(#ex)"/>
<rect x="188.0" y="131.78" width="21.5" height="4.5" rx="1.30" fill="url(#ex)"/>
<line x1="142.2" y1="139.13" x2="217.6" y2="139.13" stroke="#5a5a5a" stroke-width="0.85"/>
<rect x="142.2" y="137.33" width="12.6" height="4.5" rx="1.30" fill="url(#ex)"/>
<rect x="163.8" y="137.33" width="10.5" height="4.5" rx="1.30" fill="url(#ex)"/>
<rect x="181.0" y="137.33" width="8.6" height="4.5" rx="1.30" fill="url(#ex)"/>
<rect x="196.2" y="137.33" width="21.4" height="4.5" rx="1.30" fill="url(#ex)"/>
<line x1="142.2" y1="144.68" x2="265.9" y2="144.68" stroke="#5a5a5a" stroke-width="0.85"/>
<rect x="142.2" y="142.88" width="13.9" height="4.5" rx="1.30" fill="url(#ex)"/>
<rect x="179.0" y="142.88" width="9.0" height="4.5" rx="1.30" fill="url(#ex)"/>
<rect x="195.3" y="142.88" width="8.6" height="4.5" rx="1.30" fill="url(#ex)"/>
<rect x="244.3" y="142.88" width="21.6" height="4.5" rx="1.30" fill="url(#ex)"/>
<line x1="142.2" y1="150.22" x2="213.7" y2="150.22" stroke="#5a5a5a" stroke-width="0.85"/>
<rect x="142.2" y="148.42" width="11.5" height="4.5" rx="1.30" fill="url(#ex)"/>
<rect x="160.9" y="148.42" width="9.9" height="4.5" rx="1.30" fill="url(#ex)"/>
<rect x="176.2" y="148.42" width="8.0" height="4.5" rx="1.30" fill="url(#ex)"/>
<rect x="191.8" y="148.42" width="21.9" height="4.5" rx="1.30" fill="url(#ex)"/>
<line x1="142.2" y1="155.77" x2="211.8" y2="155.77" stroke="#5a5a5a" stroke-width="0.85"/>
<rect x="142.2" y="153.97" width="11.5" height="4.5" rx="1.30" fill="url(#ex)"/>
<rect x="161.9" y="153.97" width="10.1" height="4.5" rx="1.30" fill="url(#ex)"/>
<rect x="177.7" y="153.97" width="8.0" height="4.5" rx="1.30" fill="url(#ex)"/>
<rect x="189.9" y="153.97" width="21.9" height="4.5" rx="1.30" fill="url(#ex)"/>
<line x1="142.2" y1="161.31" x2="220.6" y2="161.31" stroke="#5a5a5a" stroke-width="0.85"/>
<rect x="142.2" y="159.51" width="10.7" height="4.5" rx="1.30" fill="url(#ex)"/>
<rect x="159.0" y="159.51" width="9.9" height="4.5" rx="1.30" fill="url(#ex)"/>
<rect x="189.2" y="159.51" width="31.4" height="4.5" rx="1.30" fill="url(#ex)"/>
<line x1="142.2" y1="166.86" x2="208.6" y2="166.86" stroke="#5a5a5a" stroke-width="0.85"/>
<rect x="142.2" y="165.06" width="11.1" height="4.5" rx="1.30" fill="url(#ex)"/>
<rect x="160.0" y="165.06" width="9.5" height="4.5" rx="1.30" fill="url(#ex)"/>
<rect x="177.1" y="165.06" width="31.5" height="4.5" rx="1.30" fill="url(#ex)"/>
<line x1="142.2" y1="172.40" x2="217.0" y2="172.40" stroke="#5a5a5a" stroke-width="0.85"/>
<rect x="142.2" y="170.60" width="11.5" height="4.5" rx="1.30" fill="url(#ex)"/>
<rect x="160.9" y="170.60" width="9.9" height="4.5" rx="1.30" fill="url(#ex)"/>
<rect x="175.2" y="170.60" width="8.6" height="4.5" rx="1.30" fill="url(#ex)"/>
<rect x="195.7" y="170.60" width="21.3" height="4.5" rx="1.30" fill="url(#ex)"/>
<line x1="142.2" y1="177.96" x2="225.9" y2="177.96" stroke="#5a5a5a" stroke-width="0.85"/>
<rect x="142.2" y="176.16" width="11.1" height="4.5" rx="1.30" fill="url(#ex)"/>
<rect x="158.0" y="176.16" width="9.6" height="4.5" rx="1.30" fill="url(#ex)"/>
<rect x="175.8" y="176.16" width="8.0" height="4.5" rx="1.30" fill="url(#ex)"/>
<rect x="205.5" y="176.16" width="20.4" height="4.5" rx="1.30" fill="url(#ex)"/>
<line x1="142.2" y1="183.52" x2="208.0" y2="183.52" stroke="#5a5a5a" stroke-width="0.85"/>
<rect x="142.2" y="181.72" width="10.7" height="4.5" rx="1.30" fill="url(#ex)"/>
<rect x="157.5" y="181.72" width="9.1" height="4.5" rx="1.30" fill="url(#ex)"/>
<rect x="174.7" y="181.72" width="8.2" height="4.5" rx="1.30" fill="url(#ex)"/>
<rect x="187.3" y="181.72" width="20.7" height="4.5" rx="1.30" fill="url(#ex)"/>
<line x1="142.2" y1="189.08" x2="188.0" y2="189.08" stroke="#5a5a5a" stroke-width="0.85"/>
<rect x="142.2" y="187.28" width="11.5" height="4.5" rx="1.30" fill="url(#ex)"/>
<rect x="158.6" y="187.28" width="9.6" height="4.5" rx="1.30" fill="url(#ex)"/>
<rect x="175.8" y="187.28" width="12.2" height="4.5" rx="1.30" fill="url(#ex)"/>
<line x1="142.2" y1="194.64" x2="219.8" y2="194.64" stroke="#5a5a5a" stroke-width="0.85"/>
<rect x="142.2" y="192.84" width="11.1" height="4.5" rx="1.30" fill="url(#ex)"/>
<rect x="160.9" y="192.84" width="9.9" height="4.5" rx="1.30" fill="url(#ex)"/>
<rect x="181.5" y="192.84" width="8.4" height="4.5" rx="1.30" fill="url(#ex)"/>
<rect x="196.5" y="192.84" width="23.3" height="4.5" rx="1.30" fill="url(#ex)"/>
<line x1="142.2" y1="200.20" x2="211.8" y2="200.20" stroke="#5a5a5a" stroke-width="0.85"/>
<rect x="142.2" y="198.40" width="10.7" height="4.5" rx="1.30" fill="url(#ex)"/>
<rect x="159.4" y="198.40" width="10.1" height="4.5" rx="1.30" fill="url(#ex)"/>
<rect x="173.9" y="198.40" width="8.0" height="4.5" rx="1.30" fill="url(#ex)"/>
<rect x="189.2" y="198.40" width="22.6" height="4.5" rx="1.30" fill="url(#ex)"/>
<line x1="142.2" y1="205.76" x2="229.7" y2="205.76" stroke="#5a5a5a" stroke-width="0.85"/>
<rect x="141.6" y="203.96" width="2.5" height="4.5" rx="1.25" fill="url(#ex)"/>
<rect x="152.1" y="203.96" width="7.4" height="4.5" rx="1.30" fill="url(#ex)"/>
<rect x="167.2" y="203.96" width="9.0" height="4.5" rx="1.30" fill="url(#ex)"/>
<rect x="188.1" y="203.96" width="8.4" height="4.5" rx="1.30" fill="url(#ex)"/>
<rect x="205.5" y="203.96" width="24.2" height="4.5" rx="1.30" fill="url(#ex)"/>
<line x1="142.2" y1="211.32" x2="234.1" y2="211.32" stroke="#5a5a5a" stroke-width="0.85"/>
<rect x="142.2" y="209.52" width="10.1" height="4.5" rx="1.30" fill="url(#ex)"/>
<rect x="159.7" y="209.52" width="8.7" height="4.5" rx="1.30" fill="url(#ex)"/>
<rect x="179.2" y="209.52" width="8.3" height="4.5" rx="1.30" fill="url(#ex)"/>
<rect x="209.9" y="209.52" width="24.2" height="4.5" rx="1.30" fill="url(#ex)"/>
<line x1="142.2" y1="216.88" x2="297.4" y2="216.88" stroke="#5a5a5a" stroke-width="0.85"/>
<rect x="142.2" y="215.08" width="11.5" height="4.5" rx="1.30" fill="url(#ex)"/>
<rect x="260.1" y="215.08" width="37.3" height="4.5" rx="1.30" fill="url(#ex)"/>
<line x1="142.2" y1="222.44" x2="212.4" y2="222.44" stroke="#5a5a5a" stroke-width="0.85"/>
<rect x="142.2" y="220.64" width="10.1" height="4.5" rx="1.30" fill="url(#ex)"/>
<rect x="157.5" y="220.64" width="9.5" height="4.5" rx="1.30" fill="url(#ex)"/>
<rect x="173.9" y="220.64" width="7.6" height="4.5" rx="1.30" fill="url(#ex)"/>
<rect x="191.8" y="220.64" width="20.6" height="4.5" rx="1.30" fill="url(#ex)"/>
<line x1="142.2" y1="228.00" x2="206.7" y2="228.00" stroke="#5a5a5a" stroke-width="0.85"/>
<rect x="142.2" y="226.20" width="10.1" height="4.5" rx="1.30" fill="url(#ex)"/>
<rect x="158.6" y="226.20" width="8.4" height="4.5" rx="1.30" fill="url(#ex)"/>
<rect x="173.3" y="226.20" width="7.7" height="4.5" rx="1.30" fill="url(#ex)"/>
<rect x="186.7" y="226.20" width="20.0" height="4.5" rx="1.30" fill="url(#ex)"/>
<line x1="142.2" y1="233.56" x2="211.9" y2="233.56" stroke="#5a5a5a" stroke-width="0.85"/>
<rect x="142.2" y="231.76" width="9.5" height="4.5" rx="1.30" fill="url(#ex)"/>
<rect x="157.5" y="231.76" width="8.8" height="4.5" rx="1.30" fill="url(#ex)"/>
<rect x="179.0" y="231.76" width="7.7" height="4.5" rx="1.30" fill="url(#ex)"/>
<rect x="191.8" y="231.76" width="20.1" height="4.5" rx="1.30" fill="url(#ex)"/>
<line x1="142.2" y1="239.12" x2="217.9" y2="239.12" stroke="#5a5a5a" stroke-width="0.85"/>
<rect x="142.2" y="237.32" width="11.1" height="4.5" rx="1.30" fill="url(#ex)"/>
<rect x="172.0" y="237.32" width="9.0" height="4.5" rx="1.30" fill="url(#ex)"/>
<rect x="189.2" y="237.32" width="28.7" height="4.5" rx="1.30" fill="url(#ex)"/>
<line x1="142.2" y1="244.68" x2="210.7" y2="244.68" stroke="#5a5a5a" stroke-width="0.85"/>
<rect x="142.2" y="242.88" width="9.5" height="4.5" rx="1.30" fill="url(#ex)"/>
<rect x="157.1" y="242.88" width="8.6" height="4.5" rx="1.30" fill="url(#ex)"/>
<rect x="170.8" y="242.88" width="6.3" height="4.5" rx="1.30" fill="url(#ex)"/>
<rect x="191.8" y="242.88" width="18.9" height="4.5" rx="1.30" fill="url(#ex)"/>
<line x1="142.2" y1="250.24" x2="210.6" y2="250.24" stroke="#5a5a5a" stroke-width="0.85"/>
<rect x="142.2" y="248.44" width="10.1" height="4.5" rx="1.30" fill="url(#ex)"/>
<rect x="160.0" y="248.44" width="8.9" height="4.5" rx="1.30" fill="url(#ex)"/>
<rect x="173.9" y="248.44" width="7.6" height="4.5" rx="1.30" fill="url(#ex)"/>
<rect x="190.0" y="248.44" width="20.6" height="4.5" rx="1.30" fill="url(#ex)"/>
<line x1="142.2" y1="255.79" x2="202.0" y2="255.79" stroke="#5a5a5a" stroke-width="0.85"/>
<rect x="142.2" y="253.99" width="11.5" height="4.5" rx="1.30" fill="url(#ex)"/>
<rect x="160.0" y="253.99" width="42.0" height="4.5" rx="1.30" fill="url(#ex)"/>
<line x1="142.2" y1="261.35" x2="201.7" y2="261.35" stroke="#5a5a5a" stroke-width="0.85"/>
<rect x="142.2" y="259.55" width="11.5" height="4.5" rx="1.30" fill="url(#ex)"/>
<rect x="160.5" y="259.55" width="41.2" height="4.5" rx="1.30" fill="url(#ex)"/>
<line x1="142.2" y1="266.91" x2="222.6" y2="266.91" stroke="#5a5a5a" stroke-width="0.85"/>
<rect x="142.2" y="265.11" width="12.0" height="4.5" rx="1.30" fill="url(#ex)"/>
<rect x="173.9" y="265.11" width="9.0" height="4.5" rx="1.30" fill="url(#ex)"/>
<rect x="188.0" y="265.11" width="8.3" height="4.5" rx="1.30" fill="url(#ex)"/>
<rect x="201.3" y="265.11" width="21.3" height="4.5" rx="1.30" fill="url(#ex)"/>
<line x1="142.2" y1="272.47" x2="213.0" y2="272.47" stroke="#5a5a5a" stroke-width="0.85"/>
<rect x="142.2" y="270.67" width="11.5" height="4.5" rx="1.30" fill="url(#ex)"/>
<rect x="159.4" y="270.67" width="9.1" height="4.5" rx="1.30" fill="url(#ex)"/>
<rect x="175.8" y="270.67" width="7.1" height="4.5" rx="1.30" fill="url(#ex)"/>
<rect x="189.6" y="270.67" width="23.4" height="4.5" rx="1.30" fill="url(#ex)"/>
<line x1="142.2" y1="278.03" x2="196.7" y2="278.03" stroke="#5a5a5a" stroke-width="0.85"/>
<rect x="142.2" y="276.23" width="9.5" height="4.5" rx="1.30" fill="url(#ex)"/>
<rect x="158.0" y="276.23" width="38.7" height="4.5" rx="1.30" fill="url(#ex)"/>
<line x1="142.2" y1="283.59" x2="235.9" y2="283.59" stroke="#5a5a5a" stroke-width="0.85"/>
<rect x="142.2" y="281.79" width="12.0" height="4.5" rx="1.30" fill="url(#ex)"/>
<rect x="175.8" y="281.79" width="8.4" height="4.5" rx="1.30" fill="url(#ex)"/>
<rect x="196.3" y="281.79" width="7.4" height="4.5" rx="1.30" fill="url(#ex)"/>
<rect x="214.7" y="281.79" width="21.2" height="4.5" rx="1.30" fill="url(#ex)"/>
<line x1="142.2" y1="289.15" x2="243.8" y2="289.15" stroke="#5a5a5a" stroke-width="0.85"/>
<rect x="142.2" y="287.35" width="17.8" height="4.5" rx="1.30" fill="url(#ex)"/>
<rect x="189.2" y="287.35" width="8.8" height="4.5" rx="1.30" fill="url(#ex)"/>
<rect x="202.5" y="287.35" width="7.9" height="4.5" rx="1.30" fill="url(#ex)"/>
<rect x="215.4" y="287.35" width="28.4" height="4.5" rx="1.30" fill="url(#ex)"/>
<line x1="142.2" y1="294.71" x2="203.7" y2="294.71" stroke="#5a5a5a" stroke-width="0.85"/>
<rect x="142.2" y="292.91" width="20.2" height="4.5" rx="1.30" fill="url(#ex)"/>
<rect x="168.2" y="292.91" width="8.0" height="4.5" rx="1.30" fill="url(#ex)"/>
<rect x="182.9" y="292.91" width="20.8" height="4.5" rx="1.30" fill="url(#ex)"/>
<line x1="142.2" y1="300.27" x2="214.7" y2="300.27" stroke="#5a5a5a" stroke-width="0.85"/>
<rect x="142.2" y="298.47" width="17.8" height="4.5" rx="1.30" fill="url(#ex)"/>
<rect x="174.3" y="298.47" width="7.6" height="4.5" rx="1.30" fill="url(#ex)"/>
<rect x="194.3" y="298.47" width="20.4" height="4.5" rx="1.30" fill="url(#ex)"/>
<line x1="142.2" y1="305.83" x2="221.4" y2="305.83" stroke="#5a5a5a" stroke-width="0.85"/>
<rect x="142.2" y="304.03" width="19.7" height="4.5" rx="1.30" fill="url(#ex)"/>
<rect x="170.8" y="304.03" width="8.2" height="4.5" rx="1.30" fill="url(#ex)"/>
<rect x="199.2" y="304.03" width="22.2" height="4.5" rx="1.30" fill="url(#ex)"/>
<line x1="142.2" y1="311.39" x2="207.0" y2="311.39" stroke="#5a5a5a" stroke-width="0.85"/>
<rect x="142.2" y="309.59" width="11.1" height="4.5" rx="1.30" fill="url(#ex)"/>
<rect x="158.6" y="309.59" width="9.0" height="4.5" rx="1.30" fill="url(#ex)"/>
<rect x="172.4" y="309.59" width="8.6" height="4.5" rx="1.30" fill="url(#ex)"/>
<rect x="184.8" y="309.59" width="22.2" height="4.5" rx="1.30" fill="url(#ex)"/>
<line x1="142.2" y1="316.95" x2="205.8" y2="316.95" stroke="#5a5a5a" stroke-width="0.85"/>
<rect x="142.2" y="315.15" width="10.7" height="4.5" rx="1.30" fill="url(#ex)"/>
<rect x="158.0" y="315.15" width="9.0" height="4.5" rx="1.30" fill="url(#ex)"/>
<rect x="172.4" y="315.15" width="7.6" height="4.5" rx="1.30" fill="url(#ex)"/>
<rect x="185.4" y="315.15" width="20.4" height="4.5" rx="1.30" fill="url(#ex)"/>
<line x1="142.2" y1="322.51" x2="206.5" y2="322.51" stroke="#5a5a5a" stroke-width="0.85"/>
<rect x="142.2" y="320.71" width="10.7" height="4.5" rx="1.30" fill="url(#ex)"/>
<rect x="157.5" y="320.71" width="9.1" height="4.5" rx="1.30" fill="url(#ex)"/>
<rect x="172.7" y="320.71" width="7.7" height="4.5" rx="1.30" fill="url(#ex)"/>
<rect x="186.1" y="320.71" width="20.4" height="4.5" rx="1.30" fill="url(#ex)"/>
<line x1="142.2" y1="328.07" x2="208.6" y2="328.07" stroke="#5a5a5a" stroke-width="0.85"/>
<rect x="142.2" y="326.27" width="10.7" height="4.5" rx="1.30" fill="url(#ex)"/>
<rect x="160.0" y="326.27" width="8.5" height="4.5" rx="1.30" fill="url(#ex)"/>
<rect x="175.2" y="326.27" width="7.7" height="4.5" rx="1.30" fill="url(#ex)"/>
<rect x="188.0" y="326.27" width="20.6" height="4.5" rx="1.30" fill="url(#ex)"/>
<line x1="142.2" y1="333.62" x2="205.5" y2="333.62" stroke="#5a5a5a" stroke-width="0.85"/>
<rect x="142.2" y="331.82" width="10.7" height="4.5" rx="1.30" fill="url(#ex)"/>
<rect x="158.0" y="331.82" width="8.3" height="4.5" rx="1.30" fill="url(#ex)"/>
<rect x="171.4" y="331.82" width="8.2" height="4.5" rx="1.30" fill="url(#ex)"/>
<rect x="185.4" y="331.82" width="20.1" height="4.5" rx="1.30" fill="url(#ex)"/>
<line x1="142.2" y1="339.18" x2="223.2" y2="339.18" stroke="#5a5a5a" stroke-width="0.85"/>
<rect x="142.2" y="337.38" width="12.6" height="4.5" rx="1.30" fill="url(#ex)"/>
<rect x="172.0" y="337.38" width="8.4" height="4.5" rx="1.30" fill="url(#ex)"/>
<rect x="186.7" y="337.38" width="7.6" height="4.5" rx="1.30" fill="url(#ex)"/>
<rect x="202.9" y="337.38" width="20.3" height="4.5" rx="1.30" fill="url(#ex)"/>
<line x1="142.2" y1="344.73" x2="204.0" y2="344.73" stroke="#5a5a5a" stroke-width="0.85"/>
<rect x="142.2" y="342.93" width="10.7" height="4.5" rx="1.30" fill="url(#ex)"/>
<rect x="158.0" y="342.93" width="9.6" height="4.5" rx="1.30" fill="url(#ex)"/>
<rect x="173.3" y="342.93" width="30.7" height="4.5" rx="1.30" fill="url(#ex)"/>
<line x1="142.2" y1="350.29" x2="204.0" y2="350.29" stroke="#5a5a5a" stroke-width="0.85"/>
<rect x="142.2" y="348.49" width="10.7" height="4.5" rx="1.30" fill="url(#ex)"/>
<rect x="158.0" y="348.49" width="9.6" height="4.5" rx="1.30" fill="url(#ex)"/>
<rect x="173.3" y="348.49" width="30.7" height="4.5" rx="1.30" fill="url(#ex)"/>
<line x1="142.2" y1="355.84" x2="205.0" y2="355.84" stroke="#5a5a5a" stroke-width="0.85"/>
<rect x="141.5" y="354.04" width="2.5" height="4.5" rx="1.25" fill="url(#ex)"/>
<rect x="158.0" y="354.04" width="8.6" height="4.5" rx="1.30" fill="url(#ex)"/>
<rect x="172.4" y="354.04" width="7.2" height="4.5" rx="1.30" fill="url(#ex)"/>
<rect x="185.4" y="354.04" width="19.6" height="4.5" rx="1.30" fill="url(#ex)"/>
<line x1="142.2" y1="361.40" x2="210.3" y2="361.40" stroke="#5a5a5a" stroke-width="0.85"/>
<rect x="142.2" y="359.60" width="10.7" height="4.5" rx="1.30" fill="url(#ex)"/>
<rect x="160.5" y="359.60" width="10.3" height="4.5" rx="1.30" fill="url(#ex)"/>
<rect x="175.8" y="359.60" width="8.0" height="4.5" rx="1.30" fill="url(#ex)"/>
<rect x="188.6" y="359.60" width="21.7" height="4.5" rx="1.30" fill="url(#ex)"/>
<line x1="142.2" y1="366.95" x2="219.4" y2="366.95" stroke="#5a5a5a" stroke-width="0.85"/>
<rect x="142.2" y="365.15" width="12.6" height="4.5" rx="1.30" fill="url(#ex)"/>
<rect x="160.5" y="365.15" width="9.6" height="4.5" rx="1.30" fill="url(#ex)"/>
<rect x="175.8" y="365.15" width="8.0" height="4.5" rx="1.30" fill="url(#ex)"/>
<rect x="197.4" y="365.15" width="22.0" height="4.5" rx="1.30" fill="url(#ex)"/>
<line x1="142.2" y1="372.50" x2="208.9" y2="372.50" stroke="#5a5a5a" stroke-width="0.85"/>
<rect x="142.2" y="370.70" width="10.7" height="4.5" rx="1.30" fill="url(#ex)"/>
<rect x="158.6" y="370.70" width="9.0" height="4.5" rx="1.30" fill="url(#ex)"/>
<rect x="174.7" y="370.70" width="7.6" height="4.5" rx="1.30" fill="url(#ex)"/>
<rect x="188.6" y="370.70" width="20.3" height="4.5" rx="1.30" fill="url(#ex)"/>
<line x1="142.2" y1="378.06" x2="208.3" y2="378.06" stroke="#5a5a5a" stroke-width="0.85"/>
<rect x="142.2" y="376.26" width="10.7" height="4.5" rx="1.30" fill="url(#ex)"/>
<rect x="158.0" y="376.26" width="9.0" height="4.5" rx="1.30" fill="url(#ex)"/>
<rect x="173.3" y="376.26" width="7.1" height="4.5" rx="1.30" fill="url(#ex)"/>
<rect x="188.0" y="376.26" width="20.3" height="4.5" rx="1.30" fill="url(#ex)"/>
<line x1="142.2" y1="383.61" x2="207.7" y2="383.61" stroke="#5a5a5a" stroke-width="0.85"/>
<rect x="142.2" y="381.81" width="9.5" height="4.5" rx="1.30" fill="url(#ex)"/>
<rect x="160.0" y="381.81" width="8.9" height="4.5" rx="1.30" fill="url(#ex)"/>
<rect x="173.9" y="381.81" width="7.6" height="4.5" rx="1.30" fill="url(#ex)"/>
<rect x="187.3" y="381.81" width="20.4" height="4.5" rx="1.30" fill="url(#ex)"/>
<line x1="142.8" y1="389.17" x2="210.9" y2="389.17" stroke="#5a5a5a" stroke-width="0.85"/>
<rect x="142.8" y="387.37" width="10.5" height="4.5" rx="1.30" fill="url(#ex)"/>
<rect x="161.3" y="387.37" width="9.5" height="4.5" rx="1.30" fill="url(#ex)"/>
<rect x="176.2" y="387.37" width="8.0" height="4.5" rx="1.30" fill="url(#ex)"/>
<rect x="189.9" y="387.37" width="21.0" height="4.5" rx="1.30" fill="url(#ex)"/>
<line x1="142.8" y1="394.72" x2="211.8" y2="394.72" stroke="#5a5a5a" stroke-width="0.85"/>
<rect x="142.8" y="392.92" width="10.5" height="4.5" rx="1.30" fill="url(#ex)"/>
<rect x="161.3" y="392.92" width="9.5" height="4.5" rx="1.30" fill="url(#ex)"/>
<rect x="176.2" y="392.92" width="8.0" height="4.5" rx="1.30" fill="url(#ex)"/>
<rect x="190.5" y="392.92" width="21.3" height="4.5" rx="1.30" fill="url(#ex)"/>
<line x1="142.2" y1="400.28" x2="278.7" y2="400.28" stroke="#5a5a5a" stroke-width="0.85"/>
<rect x="142.2" y="398.48" width="12.0" height="4.5" rx="1.30" fill="url(#ex)"/>
<rect x="229.4" y="398.48" width="9.2" height="4.5" rx="1.30" fill="url(#ex)"/>
<rect x="243.8" y="398.48" width="8.7" height="4.5" rx="1.30" fill="url(#ex)"/>
<rect x="257.0" y="398.48" width="21.7" height="4.5" rx="1.30" fill="url(#ex)"/>
<line x1="141.8" y1="405.83" x2="192.8" y2="405.83" stroke="#5a5a5a" stroke-width="0.85"/>
<rect x="141.8" y="404.03" width="51.0" height="4.5" rx="1.30" fill="url(#ex)"/>
<line x1="142.2" y1="411.38" x2="192.8" y2="411.38" stroke="#5a5a5a" stroke-width="0.85"/>
<rect x="142.2" y="409.58" width="50.6" height="4.5" rx="1.30" fill="url(#ex)"/>
<line x1="142.2" y1="416.94" x2="192.8" y2="416.94" stroke="#5a5a5a" stroke-width="0.85"/>
<rect x="142.2" y="415.13" width="50.6" height="4.5" rx="1.30" fill="url(#ex)"/>
<line x1="142.2" y1="422.49" x2="251.7" y2="422.49" stroke="#5a5a5a" stroke-width="0.85"/>
<rect x="142.2" y="420.69" width="13.9" height="4.5" rx="1.30" fill="url(#ex)"/>
<rect x="164.7" y="420.69" width="9.6" height="4.5" rx="1.30" fill="url(#ex)"/>
<rect x="222.8" y="420.69" width="28.9" height="4.5" rx="1.30" fill="url(#ex)"/>
<line x1="142.2" y1="428.04" x2="251.7" y2="428.04" stroke="#5a5a5a" stroke-width="0.85"/>
<rect x="142.2" y="426.24" width="10.7" height="4.5" rx="1.30" fill="url(#ex)"/>
<rect x="206.3" y="426.24" width="9.4" height="4.5" rx="1.30" fill="url(#ex)"/>
<rect x="221.5" y="426.24" width="30.2" height="4.5" rx="1.30" fill="url(#ex)"/>
<line x1="142.2" y1="433.59" x2="222.8" y2="433.59" stroke="#5a5a5a" stroke-width="0.85"/>
<rect x="142.2" y="431.79" width="11.5" height="4.5" rx="1.30" fill="url(#ex)"/>
<rect x="158.0" y="431.79" width="10.2" height="4.5" rx="1.30" fill="url(#ex)"/>
<rect x="183.4" y="431.79" width="8.4" height="4.5" rx="1.30" fill="url(#ex)"/>
<rect x="201.8" y="431.79" width="21.0" height="4.5" rx="1.30" fill="url(#ex)"/>
<line x1="142.2" y1="439.15" x2="288.5" y2="439.15" stroke="#5a5a5a" stroke-width="0.85"/>
<rect x="142.2" y="437.35" width="10.1" height="4.5" rx="1.30" fill="url(#ex)"/>
<rect x="158.0" y="437.35" width="9.0" height="4.5" rx="1.30" fill="url(#ex)"/>
<rect x="250.4" y="437.35" width="7.9" height="4.5" rx="1.30" fill="url(#ex)"/>
<rect x="268.2" y="437.35" width="20.3" height="4.5" rx="1.30" fill="url(#ex)"/>
<line x1="142.2" y1="444.70" x2="210.8" y2="444.70" stroke="#5a5a5a" stroke-width="0.85"/>
<rect x="142.2" y="442.90" width="10.6" height="4.5" rx="1.30" fill="url(#ex)"/>
<rect x="158.3" y="442.90" width="8.3" height="4.5" rx="1.30" fill="url(#ex)"/>
<rect x="173.3" y="442.90" width="8.9" height="4.5" rx="1.30" fill="url(#ex)"/>
<rect x="190.0" y="442.90" width="20.8" height="4.5" rx="1.30" fill="url(#ex)"/>
<line x1="142.2" y1="450.25" x2="223.4" y2="450.25" stroke="#5a5a5a" stroke-width="0.85"/>
<rect x="142.2" y="448.45" width="11.3" height="4.5" rx="1.30" fill="url(#ex)"/>
<rect x="159.5" y="448.45" width="9.8" height="4.5" rx="1.30" fill="url(#ex)"/>
<rect x="174.4" y="448.45" width="8.3" height="4.5" rx="1.30" fill="url(#ex)"/>
<rect x="202.9" y="448.45" width="20.5" height="4.5" rx="1.30" fill="url(#ex)"/>
<line x1="142.2" y1="455.83" x2="225.0" y2="455.83" stroke="#5a5a5a" stroke-width="0.85"/>
<rect x="142.2" y="454.03" width="3.9" height="4.5" rx="1.30" fill="url(#ex)"/>
<rect x="161.3" y="454.03" width="7.1" height="4.5" rx="1.30" fill="url(#ex)"/>
<rect x="173.2" y="454.03" width="9.5" height="4.5" rx="1.30" fill="url(#ex)"/>
<rect x="191.6" y="454.03" width="8.0" height="4.5" rx="1.30" fill="url(#ex)"/>
<rect x="204.7" y="454.03" width="20.3" height="4.5" rx="1.30" fill="url(#ex)"/>
<line x1="142.2" y1="461.41" x2="224.1" y2="461.41" stroke="#5a5a5a" stroke-width="0.85"/>
<rect x="142.2" y="459.61" width="11.9" height="4.5" rx="1.30" fill="url(#ex)"/>
<rect x="159.2" y="459.61" width="9.2" height="4.5" rx="1.30" fill="url(#ex)"/>
<rect x="191.2" y="459.61" width="7.9" height="4.5" rx="1.30" fill="url(#ex)"/>
<rect x="205.0" y="459.61" width="19.1" height="4.5" rx="1.30" fill="url(#ex)"/>
<line x1="142.5" y1="467.00" x2="223.3" y2="467.00" stroke="#5a5a5a" stroke-width="0.85"/>
<rect x="142.5" y="465.19" width="3.6" height="4.5" rx="1.30" fill="url(#ex)"/>
<rect x="159.1" y="465.19" width="3.1" height="4.5" rx="1.30" fill="url(#ex)"/>
<rect x="181.9" y="465.19" width="5.3" height="4.5" rx="1.30" fill="url(#ex)"/>
<rect x="205.0" y="465.19" width="3.0" height="4.5" rx="1.30" fill="url(#ex)"/>
<rect x="219.1" y="465.19" width="4.2" height="4.5" rx="1.30" fill="url(#ex)"/>
<line x1="142.5" y1="472.58" x2="391.8" y2="472.58" stroke="#5a5a5a" stroke-width="0.85"/>
<rect x="142.5" y="470.78" width="11.6" height="4.5" rx="1.30" fill="url(#ex)"/>
<rect x="173.8" y="470.78" width="5.4" height="4.5" rx="1.30" fill="url(#ex)"/>
<rect x="230.5" y="470.78" width="5.8" height="4.5" rx="1.30" fill="url(#ex)"/>
<rect x="241.0" y="470.78" width="4.8" height="4.5" rx="1.30" fill="url(#ex)"/>
<rect x="250.0" y="470.78" width="4.2" height="4.5" rx="1.30" fill="url(#ex)"/>
<rect x="296.2" y="470.78" width="2.8" height="4.5" rx="1.30" fill="url(#ex)"/>
<rect x="303.7" y="470.78" width="3.9" height="4.5" rx="1.30" fill="url(#ex)"/>
<rect x="351.2" y="470.78" width="3.9" height="4.5" rx="1.30" fill="url(#ex)"/>
<rect x="360.2" y="470.78" width="3.4" height="4.5" rx="1.30" fill="url(#ex)"/>
<rect x="368.2" y="470.78" width="5.3" height="4.5" rx="1.30" fill="url(#ex)"/>
<rect x="390.0" y="470.78" width="2.5" height="4.5" rx="1.25" fill="url(#ex)"/>
<line x1="142.5" y1="477.46" x2="205.1" y2="477.46" stroke="#5a5a5a" stroke-width="0.85"/>
<rect x="142.5" y="475.66" width="11.6" height="4.5" rx="1.30" fill="url(#ex)"/>
<rect x="159.5" y="475.66" width="5.3" height="4.5" rx="1.30" fill="url(#ex)"/>
<rect x="181.0" y="475.66" width="5.3" height="4.5" rx="1.30" fill="url(#ex)"/>
<rect x="190.8" y="475.66" width="4.8" height="4.5" rx="1.30" fill="url(#ex)"/>
<rect x="200.6" y="475.66" width="4.5" height="4.5" rx="1.30" fill="url(#ex)"/>
<line x1="142.5" y1="483.74" x2="404.3" y2="483.74" stroke="#5a5a5a" stroke-width="0.85"/>
<rect x="142.5" y="481.94" width="4.1" height="4.5" rx="1.30" fill="url(#ex)"/>
<rect x="152.0" y="481.94" width="5.3" height="4.5" rx="1.30" fill="url(#ex)"/>
<rect x="163.6" y="481.94" width="2.5" height="4.5" rx="1.25" fill="url(#ex)"/>
<rect x="204.3" y="481.94" width="3.6" height="4.5" rx="1.30" fill="url(#ex)"/>
<rect x="211.5" y="481.94" width="2.5" height="4.5" rx="1.25" fill="url(#ex)"/>
<rect x="352.3" y="481.94" width="4.3" height="4.5" rx="1.30" fill="url(#ex)"/>
<rect x="360.8" y="481.94" width="4.2" height="4.5" rx="1.30" fill="url(#ex)"/>
<rect x="370.4" y="481.94" width="4.6" height="4.5" rx="1.30" fill="url(#ex)"/>
<rect x="394.8" y="481.94" width="9.5" height="4.5" rx="1.30" fill="url(#ex)"/>
<line x1="142.5" y1="489.71" x2="229.4" y2="489.71" stroke="#5a5a5a" stroke-width="0.85"/>
<rect x="142.5" y="487.91" width="4.5" height="4.5" rx="1.30" fill="url(#ex)"/>
<rect x="152.3" y="487.91" width="5.7" height="4.5" rx="1.30" fill="url(#ex)"/>
<rect x="163.6" y="487.91" width="2.5" height="4.5" rx="1.25" fill="url(#ex)"/>
<rect x="179.2" y="487.91" width="2.7" height="4.5" rx="1.30" fill="url(#ex)"/>
<rect x="185.8" y="487.91" width="2.5" height="4.5" rx="1.25" fill="url(#ex)"/>
<rect x="193.5" y="487.91" width="3.6" height="4.5" rx="1.30" fill="url(#ex)"/>
<rect x="201.4" y="487.91" width="3.9" height="4.5" rx="1.30" fill="url(#ex)"/>
<rect x="210.5" y="487.91" width="4.5" height="4.5" rx="1.30" fill="url(#ex)"/>
<rect x="220.5" y="487.91" width="8.9" height="4.5" rx="1.30" fill="url(#ex)"/>
<line x1="142.5" y1="495.67" x2="227.2" y2="495.67" stroke="#5a5a5a" stroke-width="0.85"/>
<rect x="142.5" y="493.87" width="4.5" height="4.5" rx="1.30" fill="url(#ex)"/>
<rect x="153.2" y="493.87" width="7.7" height="4.5" rx="1.30" fill="url(#ex)"/>
<rect x="167.5" y="493.87" width="2.7" height="4.5" rx="1.30" fill="url(#ex)"/>
<rect x="175.9" y="493.87" width="2.5" height="4.5" rx="1.25" fill="url(#ex)"/>
<rect x="182.7" y="493.87" width="3.6" height="4.5" rx="1.30" fill="url(#ex)"/>
<rect x="191.7" y="493.87" width="3.2" height="4.5" rx="1.30" fill="url(#ex)"/>
<rect x="209.3" y="493.87" width="5.0" height="4.5" rx="1.30" fill="url(#ex)"/>
<rect x="219.1" y="493.87" width="2.5" height="4.5" rx="1.25" fill="url(#ex)"/>
<rect x="225.4" y="493.87" width="2.5" height="4.5" rx="1.25" fill="url(#ex)"/>
<line x1="142.5" y1="501.54" x2="249.4" y2="501.54" stroke="#5a5a5a" stroke-width="0.85"/>
<rect x="142.5" y="499.74" width="4.5" height="4.5" rx="1.30" fill="url(#ex)"/>
<rect x="153.2" y="499.74" width="8.1" height="4.5" rx="1.30" fill="url(#ex)"/>
<rect x="167.4" y="499.74" width="2.5" height="4.5" rx="1.25" fill="url(#ex)"/>
<rect x="204.2" y="499.74" width="2.5" height="4.5" rx="1.25" fill="url(#ex)"/>
<rect x="211.8" y="499.74" width="4.4" height="4.5" rx="1.30" fill="url(#ex)"/>
<rect x="222.2" y="499.74" width="3.6" height="4.5" rx="1.30" fill="url(#ex)"/>
<rect x="232.0" y="499.74" width="12.4" height="4.5" rx="1.30" fill="url(#ex)"/>
<rect x="247.7" y="499.74" width="2.5" height="4.5" rx="1.25" fill="url(#ex)"/>
<line x1="142.5" y1="507.40" x2="249.4" y2="507.40" stroke="#5a5a5a" stroke-width="0.85"/>
<rect x="142.5" y="505.60" width="4.5" height="4.5" rx="1.30" fill="url(#ex)"/>
<rect x="153.8" y="505.60" width="7.8" height="4.5" rx="1.30" fill="url(#ex)"/>
<rect x="167.5" y="505.60" width="2.7" height="4.5" rx="1.30" fill="url(#ex)"/>
<rect x="196.6" y="505.60" width="2.5" height="4.5" rx="1.25" fill="url(#ex)"/>
<rect x="205.1" y="505.60" width="4.2" height="4.5" rx="1.30" fill="url(#ex)"/>
<rect x="215.8" y="505.60" width="3.5" height="4.5" rx="1.30" fill="url(#ex)"/>
<rect x="225.8" y="505.60" width="5.0" height="4.5" rx="1.30" fill="url(#ex)"/>
<rect x="236.5" y="505.60" width="2.9" height="4.5" rx="1.30" fill="url(#ex)"/>
<rect x="247.7" y="505.60" width="2.5" height="4.5" rx="1.25" fill="url(#ex)"/>
<line x1="142.2" y1="519.9" x2="411" y2="519.9" stroke="#777" stroke-width="0.8"/>
<line x1="142.3" y1="517.6999999999999" x2="142.3" y2="519.9" stroke="#555" stroke-width="0.6"/>
<text class="ax" x="144.1" y="525.4" text-anchor="middle">0kb</text>
<line x1="194.3" y1="517.6999999999999" x2="194.3" y2="519.9" stroke="#555" stroke-width="0.6"/>
<text class="ax" x="196.1" y="525.4" text-anchor="middle">1kb</text>
<line x1="246.3" y1="517.6999999999999" x2="246.3" y2="519.9" stroke="#555" stroke-width="0.6"/>
<text class="ax" x="248.1" y="525.4" text-anchor="middle">2kb</text>
<line x1="298.3" y1="517.6999999999999" x2="298.3" y2="519.9" stroke="#555" stroke-width="0.6"/>
<text class="ax" x="300.1" y="525.4" text-anchor="middle">3kb</text>
<line x1="350.3" y1="517.6999999999999" x2="350.3" y2="519.9" stroke="#555" stroke-width="0.6"/>
<text class="ax" x="352.1" y="525.4" text-anchor="middle">4kb</text>
<line x1="402.3" y1="517.6999999999999" x2="402.3" y2="519.9" stroke="#555" stroke-width="0.6"/>
<text class="ax" x="404.1" y="525.4" text-anchor="middle">5kb</text>
<text class="ax" x="137.8" y="517.6" style="font-size:6.2px">5'</text>
<text class="ax" x="412.3" y="517.2" style="font-size:6.2px">3'</text>
<line x1="7" y1="520.4" x2="108.6" y2="520.4" stroke="#777" stroke-width="0.8"/>
<line x1="30.1" y1="518.6999999999999" x2="30.1" y2="521.0" stroke="#444" stroke-width="0.8"/>
<text class="sc" x="30.1" y="525.8" text-anchor="middle">0.3</text>
<line x1="55.6" y1="518.6999999999999" x2="55.6" y2="521.0" stroke="#444" stroke-width="0.8"/>
<text class="sc" x="55.6" y="525.8" text-anchor="middle">0.2</text>
<line x1="81.2" y1="518.6999999999999" x2="81.2" y2="521.0" stroke="#444" stroke-width="0.8"/>
<text class="sc" x="81.2" y="525.8" text-anchor="middle">0.1</text>
<line x1="106.8" y1="518.6999999999999" x2="106.8" y2="521.0" stroke="#444" stroke-width="0.8"/>
<text class="sc" x="106.8" y="525.8" text-anchor="middle">0.0</text>
<text x="142.4" y="535.2" style="font-family:'Liberation Serif',serif;font-size:8px;fill:#222;">Legend:</text>
<rect x="142.2" y="541.8" width="9.9" height="4.3" rx="1.6" fill="url(#ex)"/>
<text x="154.6" y="546.3" style="font-family:'Liberation Serif',serif;font-size:6.6px;fill:#222;">CDS</text>
<line x1="181.5" y1="543.3" x2="191.8" y2="543.3" stroke="#666" stroke-width="0.9"/>
<text x="194.6" y="546.3" style="font-family:'Liberation Serif',serif;font-size:6.4px;fill:#222;">Intron</text>
</svg></body></html>
